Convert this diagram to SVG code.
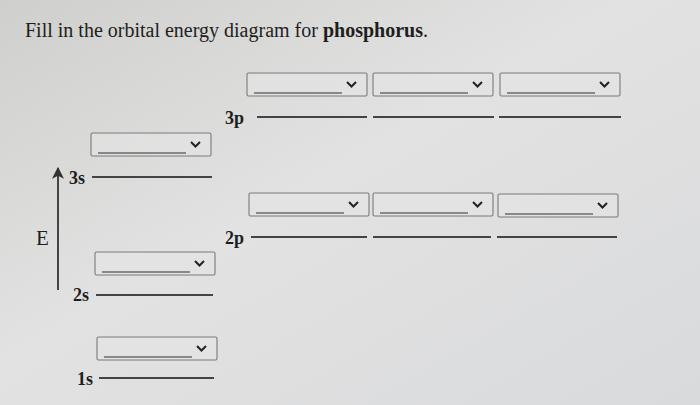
<svg xmlns="http://www.w3.org/2000/svg" width="700" height="405" viewBox="0 0 700 405">
<defs>
<linearGradient id="bg" x1="0" y1="0" x2="1" y2="1">
<stop offset="0" stop-color="#cfcfcd"/>
<stop offset="0.45" stop-color="#e2e2e2"/>
<stop offset="1" stop-color="#d9dadc"/>
</linearGradient>
<marker id="ah" viewBox="0 0 10 10" refX="9" refY="5" markerWidth="12" markerHeight="12" markerUnits="userSpaceOnUse" orient="auto">
<path d="M0,0 L10,5 L0,10 L2.5,5 Z" fill="#333"/>
</marker>
<g id="dd">
<rect x="0" y="0" width="120" height="23" rx="1.5" fill="#e4e4e4" fill-opacity="0.6" stroke="#7a7a7a" stroke-width="1.1"/>
<line x1="7" y1="20" x2="95" y2="20" stroke="#6a6a6a" stroke-width="1.6"/>
<path d="M100,9 L104.5,13.5 L109,9" fill="none" stroke="#222" stroke-width="2"/>
</g>
</defs>
<style>
.t{font-family:"Liberation Serif","Times New Roman",serif;fill:#1e1e1e}
.lb{font-size:18px;font-weight:bold}
.lv{stroke:#444;stroke-width:1.8}
</style>
<rect width="700" height="405" fill="url(#bg)"/>
<text class="t" x="25" y="37" font-size="20">Fill in the orbital energy diagram for <tspan font-weight="bold">phosphorus</tspan>.</text>

<g id="connectors">
<line x1="58" y1="290" x2="58" y2="168" stroke="#333" stroke-width="1.8" marker-end="url(#ah)"/>
</g>
<text class="t" x="36" y="245" font-size="21">E</text>

<g id="p3">
<use href="#dd" x="247" y="73"/>
<use href="#dd" x="373" y="73"/>
<use href="#dd" x="500" y="73"/>
<text class="t lb" x="225" y="124">3p</text>
<line class="lv" x1="257" y1="117" x2="367" y2="117"/>
<line class="lv" x1="373" y1="117" x2="494" y2="117"/>
<line class="lv" x1="499" y1="117" x2="621" y2="117"/>
</g>

<g id="s3">
<use href="#dd" x="91" y="133"/>
<text class="t lb" x="69" y="184">3s</text>
<line class="lv" x1="92" y1="177" x2="212" y2="177"/>
</g>

<g id="p2">
<use href="#dd" x="249" y="193"/>
<use href="#dd" x="373" y="193"/>
<use href="#dd" x="498" y="194"/>
<text class="t lb" x="225" y="244">2p</text>
<line class="lv" x1="251" y1="237" x2="367" y2="237"/>
<line class="lv" x1="373" y1="237" x2="491" y2="237"/>
<line class="lv" x1="497" y1="237" x2="617" y2="237"/>
</g>

<g id="s2">
<use href="#dd" x="95" y="252"/>
<text class="t lb" x="73" y="301">2s</text>
<line class="lv" x1="96" y1="295" x2="213" y2="295"/>
</g>

<g id="s1">
<use href="#dd" x="97" y="337"/>
<text class="t lb" x="77" y="385">1s</text>
<line class="lv" x1="99" y1="378" x2="214" y2="378"/>
</g>
</svg>
